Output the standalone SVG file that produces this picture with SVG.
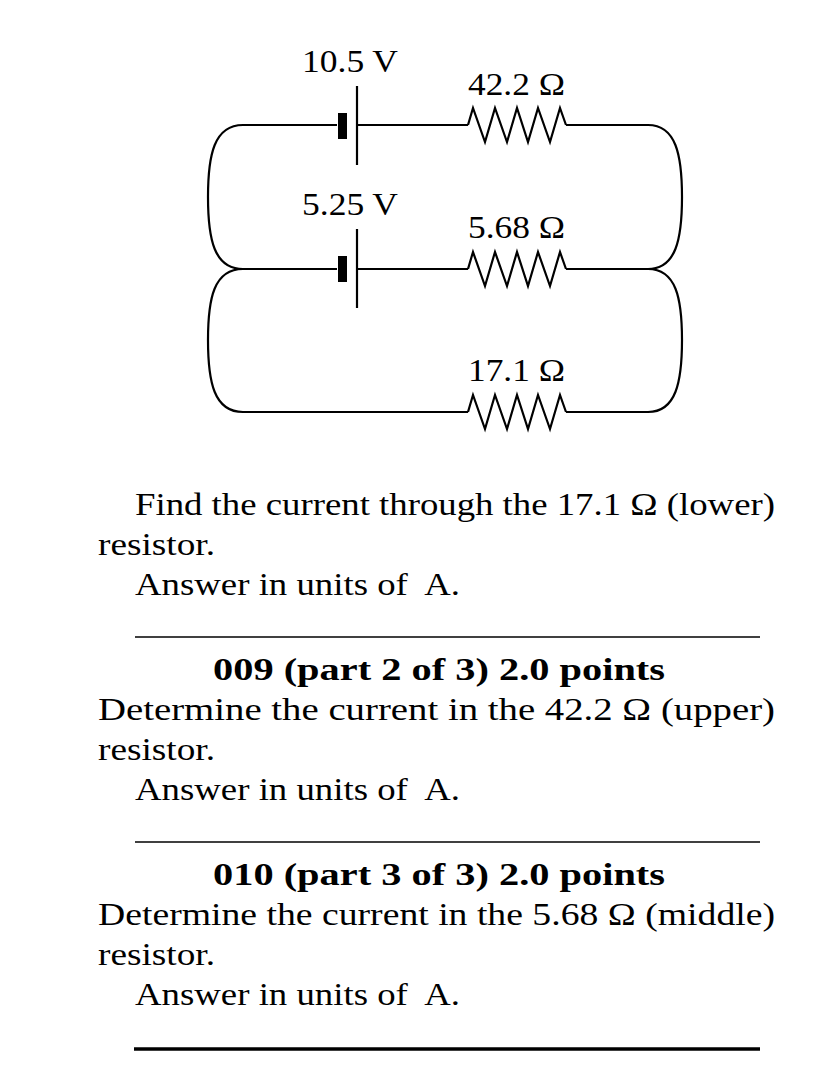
<svg xmlns="http://www.w3.org/2000/svg" width="816" height="1068" viewBox="0 0 816 1068">
<style>
.w{fill:none;stroke:#000;stroke-width:2.2;stroke-linejoin:miter}
.l{font-family:"Liberation Serif",serif;font-size:31px}
.t{font-family:"Liberation Serif",serif;font-size:31px}
.b{font-family:"Liberation Serif",serif;font-size:31px;font-weight:bold}
</style>
<rect width="816" height="1068" fill="#fff"/>
<g id="connectors">
<path class="w" d="M337,125 H243 C214,125 208,155 208,197 C208,239 214,269 243,269 H337"/>
<path class="w" d="M357,125 H468 M566,125 H648 C676,125 682,155 682,197 C682,239 676,269 648,269 H566 M357,269 H468"/>
<path class="w" d="M243,269 C214,269 208,298 208,340 C208,382 214,412 243,412 H468 M566,412 H648 C676,412 682,382 682,340 C682,298 676,269 648,269"/>
</g>
<g id="battery1">
<rect x="338" y="113" width="9" height="26" fill="#000"/>
<line x1="357" y1="86" x2="357" y2="165" stroke="#000" stroke-width="2.2"/>
<text class="l" x="302" y="72" textLength="96" lengthAdjust="spacingAndGlyphs">10.5 V</text>
</g>
<g id="battery2">
<rect x="338" y="256" width="9" height="26" fill="#000"/>
<line x1="357" y1="229" x2="357" y2="308" stroke="#000" stroke-width="2.2"/>
<text class="l" x="302" y="215" textLength="96" lengthAdjust="spacingAndGlyphs">5.25 V</text>
</g>
<g id="r1">
<polyline class="w" points="468,125 473,108 485,142 495,108 507,142 517,108 528,142 538,108 550,142 560,108 566,125"/>
<text class="l" x="468" y="95" textLength="97" lengthAdjust="spacingAndGlyphs">42.2 Ω</text>
</g>
<g id="r2">
<polyline class="w" points="468,269 473,252 485,286 495,252 507,286 517,252 528,286 538,252 550,286 560,252 566,269"/>
<text class="l" x="468" y="238" textLength="97" lengthAdjust="spacingAndGlyphs">5.68 Ω</text>
</g>
<g id="r3">
<polyline class="w" points="468,412 473,395 485,429 495,395 507,429 517,395 528,429 538,395 550,429 560,395 566,412"/>
<text class="l" x="468" y="381" textLength="97" lengthAdjust="spacingAndGlyphs">17.1 Ω</text>
</g>
<g id="text">
<text class="t" x="135" y="515" textLength="640" lengthAdjust="spacingAndGlyphs">Find the current through the 17.1 Ω (lower)</text>
<text class="t" x="98" y="555" textLength="117" lengthAdjust="spacingAndGlyphs">resistor.</text>
<text class="t" x="135" y="595" textLength="325" lengthAdjust="spacingAndGlyphs" xml:space="preserve">Answer in units of  A.</text>
<line x1="135" y1="637" x2="760" y2="637" stroke="#000" stroke-width="1.5"/>
<text class="b" x="213" y="680" textLength="452" lengthAdjust="spacingAndGlyphs">009 (part 2 of 3) 2.0 points</text>
<text class="t" x="98" y="720" textLength="677" lengthAdjust="spacingAndGlyphs">Determine the current in the 42.2 Ω (upper)</text>
<text class="t" x="98" y="760" textLength="117" lengthAdjust="spacingAndGlyphs">resistor.</text>
<text class="t" x="135" y="800" textLength="325" lengthAdjust="spacingAndGlyphs" xml:space="preserve">Answer in units of  A.</text>
<line x1="135" y1="842" x2="760" y2="842" stroke="#000" stroke-width="1.5"/>
<text class="b" x="213" y="885" textLength="452" lengthAdjust="spacingAndGlyphs">010 (part 3 of 3) 2.0 points</text>
<text class="t" x="98" y="925" textLength="677" lengthAdjust="spacingAndGlyphs">Determine the current in the 5.68 Ω (middle)</text>
<text class="t" x="98" y="965" textLength="117" lengthAdjust="spacingAndGlyphs">resistor.</text>
<text class="t" x="135" y="1005" textLength="325" lengthAdjust="spacingAndGlyphs" xml:space="preserve">Answer in units of  A.</text>
<line x1="134" y1="1049" x2="760" y2="1049" stroke="#000" stroke-width="3.5"/>
</g>
</svg>
